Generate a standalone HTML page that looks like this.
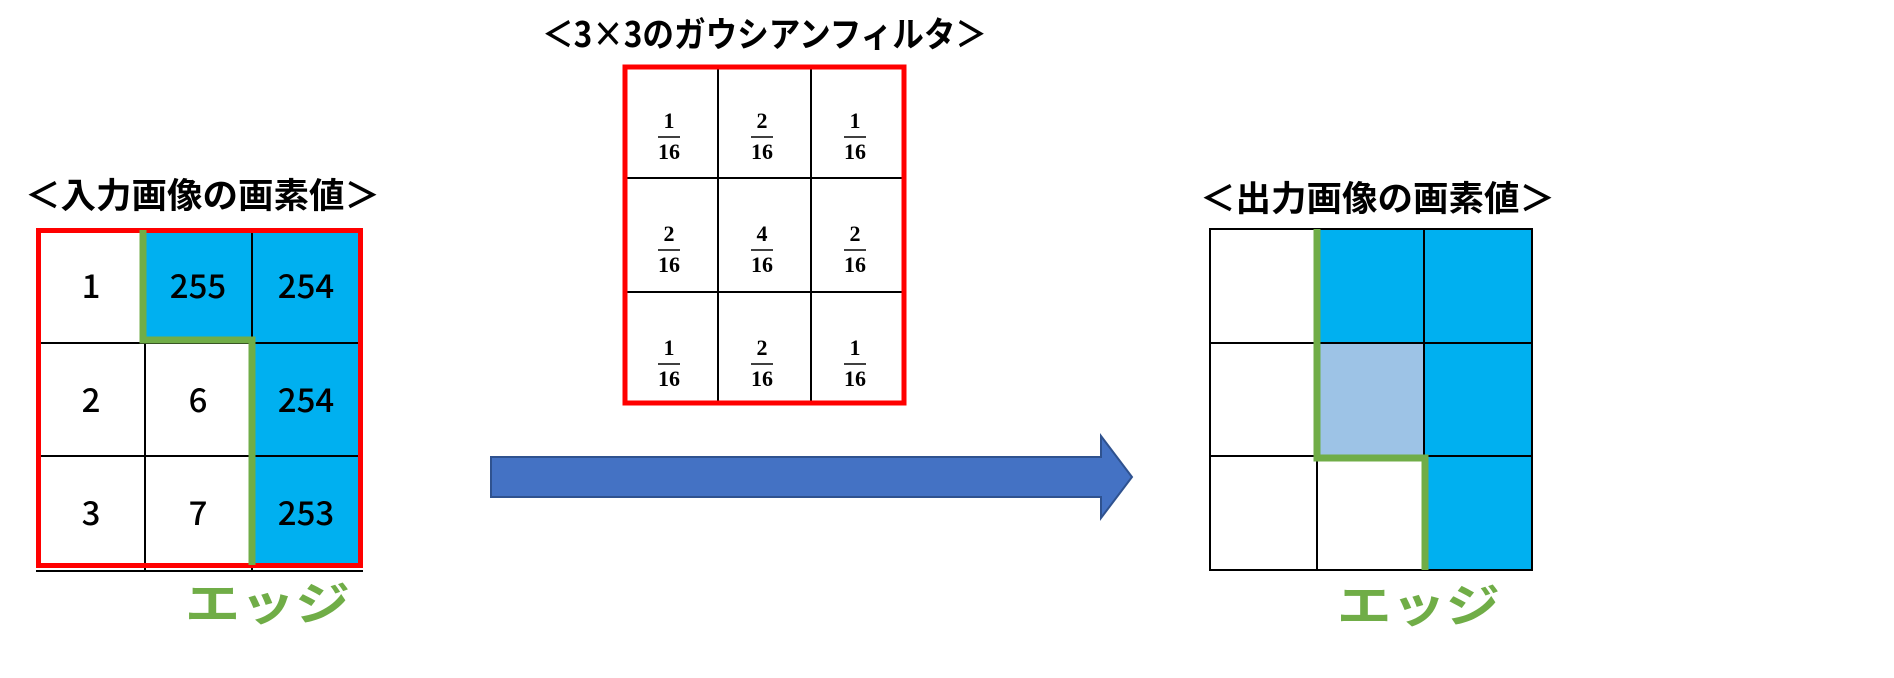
<!DOCTYPE html>
<html><head><meta charset="utf-8"><style>
html,body{margin:0;padding:0;background:#fff;width:1894px;height:678px;overflow:hidden}
svg{display:block}
.t{font-family:"Noto Sans CJK JP",sans-serif;font-weight:bold;font-size:35px;fill:#000}
.n{font-family:"Noto Sans CJK JP",sans-serif;font-weight:500;font-size:33px;fill:#000;text-anchor:middle}
.f{font-family:"Liberation Serif","DejaVu Serif",serif;font-weight:bold;font-size:22px;fill:#000;text-anchor:middle}
.e{font-family:"Noto Sans CJK JP",sans-serif;font-weight:bold;font-size:46px;fill:#70AD47}
</style></head><body>
<svg width="1894" height="678" viewBox="0 0 1894 678" xmlns="http://www.w3.org/2000/svg">
<!-- Left grid -->
<text class="t" x="25" y="208" textLength="355" lengthAdjust="spacingAndGlyphs">＜入力画像の画素値＞</text>
<rect x="145" y="229" width="218" height="114" fill="#00B0F0"/>
<rect x="252" y="343" width="111" height="224" fill="#00B0F0"/>
<g stroke="#000" stroke-width="2">
<line x1="145" y1="229" x2="145" y2="571"/>
<line x1="252" y1="229" x2="252" y2="571"/>
<line x1="36" y1="343" x2="363" y2="343"/>
<line x1="36" y1="456" x2="363" y2="456"/>
<line x1="36" y1="571" x2="363" y2="571"/>
</g>
<rect x="38.5" y="230.5" width="322" height="335" fill="none" stroke="#F00" stroke-width="5"/>
<polyline points="143,230 143,340 252,340 252,565" fill="none" stroke="#70AD47" stroke-width="7"/>
<text class="n" x="91" y="298">1</text><text class="n" x="198" y="298">255</text><text class="n" x="306" y="298">254</text>
<text class="n" x="91" y="412">2</text><text class="n" x="198" y="412">6</text><text class="n" x="306" y="412">254</text>
<text class="n" x="91" y="525">3</text><text class="n" x="198" y="525">7</text><text class="n" x="306" y="525">253</text>
<text class="e" x="185" y="620" textLength="165" lengthAdjust="spacingAndGlyphs">エッジ</text>

<!-- Filter -->
<text class="t" x="542" y="47" textLength="445" lengthAdjust="spacingAndGlyphs">＜3×3のガウシアンフィルタ＞</text>
<g stroke="#000" stroke-width="2">
<line x1="718" y1="66" x2="718" y2="403"/>
<line x1="811" y1="66" x2="811" y2="403"/>
<line x1="625" y1="178" x2="904" y2="178"/>
<line x1="625" y1="292" x2="904" y2="292"/>
</g>
<rect x="625" y="67" width="279" height="336" fill="none" stroke="#F00" stroke-width="5"/>
<g>
<text class="f" x="669" y="128">1</text><line x1="658" y1="137" x2="680" y2="137" stroke="#000" stroke-width="1.5"/><text class="f" x="669" y="159">16</text>
<text class="f" x="762" y="128">2</text><line x1="751" y1="137" x2="773" y2="137" stroke="#000" stroke-width="1.5"/><text class="f" x="762" y="159">16</text>
<text class="f" x="855" y="128">1</text><line x1="844" y1="137" x2="866" y2="137" stroke="#000" stroke-width="1.5"/><text class="f" x="855" y="159">16</text>
<text class="f" x="669" y="241">2</text><line x1="658" y1="250" x2="680" y2="250" stroke="#000" stroke-width="1.5"/><text class="f" x="669" y="272">16</text>
<text class="f" x="762" y="241">4</text><line x1="751" y1="250" x2="773" y2="250" stroke="#000" stroke-width="1.5"/><text class="f" x="762" y="272">16</text>
<text class="f" x="855" y="241">2</text><line x1="844" y1="250" x2="866" y2="250" stroke="#000" stroke-width="1.5"/><text class="f" x="855" y="272">16</text>
<text class="f" x="669" y="355">1</text><line x1="658" y1="364" x2="680" y2="364" stroke="#000" stroke-width="1.5"/><text class="f" x="669" y="386">16</text>
<text class="f" x="762" y="355">2</text><line x1="751" y1="364" x2="773" y2="364" stroke="#000" stroke-width="1.5"/><text class="f" x="762" y="386">16</text>
<text class="f" x="855" y="355">1</text><line x1="844" y1="364" x2="866" y2="364" stroke="#000" stroke-width="1.5"/><text class="f" x="855" y="386">16</text>
</g>

<!-- Arrow -->
<polygon points="491,457 1101,457 1101,436 1132,477 1101,518 1101,497 491,497" fill="#4472C4" stroke="#2F528F" stroke-width="2"/>

<!-- Output grid -->
<text class="t" x="1200" y="211" textLength="355" lengthAdjust="spacingAndGlyphs">＜出力画像の画素値＞</text>
<rect x="1317" y="229" width="215" height="114" fill="#00B0F0"/>
<rect x="1317" y="343" width="107" height="113" fill="#9DC3E6"/>
<rect x="1424" y="343" width="108" height="227" fill="#00B0F0"/>
<g stroke="#000" stroke-width="2" fill="none">
<rect x="1210" y="229" width="322" height="341"/>
<line x1="1317" y1="229" x2="1317" y2="570"/>
<line x1="1424" y1="229" x2="1424" y2="570"/>
<line x1="1210" y1="343" x2="1532" y2="343"/>
<line x1="1210" y1="456" x2="1532" y2="456"/>
</g>
<polyline points="1317,229 1317,458 1425,458 1425,570" fill="none" stroke="#70AD47" stroke-width="7"/>
<text class="e" x="1337" y="622" textLength="163" lengthAdjust="spacingAndGlyphs">エッジ</text>
</svg>
</body></html>
